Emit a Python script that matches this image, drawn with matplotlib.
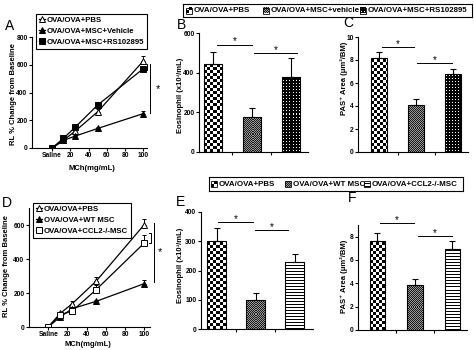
import numpy as np
import matplotlib

matplotlib.use("Agg")
import matplotlib.pyplot as plt
from matplotlib.patches import Rectangle

plt.rcParams["font.family"] = ["Liberation Sans", "DejaVu Sans"]
plt.rcParams["font.weight"] = "bold"
plt.rcParams["axes.linewidth"] = 0.8

W, H = 474, 350

# ---- data ----
doses = [0, 12.5, 25, 50, 100]
dose_ticks = [0, 20, 40, 60, 80, 100]
dose_labels = ["Saline", "20", "40", "60", "80", "100"]

a_names = ["OVA/OVA+PBS", "OVA/OVA+MSC+Vehicle", "OVA/OVA+MSC+RS102895"]
a_pbs = [0, 56, 120, 261, 628]
a_pbs_err = [0, 8, 12, 22, 35]
a_vehicle = [0, 55, 85, 141, 248]
a_vehicle_err = [0, 5, 8, 10, 18]
a_rs = [0, 70, 148, 310, 572]
a_rs_err = [0, 8, 12, 18, 18]

d_names = ["OVA/OVA+PBS", "OVA/OVA+WT MSC", "OVA/OVA+CCL2-/-MSC"]
d_pbs = [0, 80, 137, 270, 602]
d_pbs_err = [0, 10, 15, 22, 35]
d_wt = [0, 59, 108, 151, 255]
d_wt_err = [0, 5, 8, 10, 20]
d_ccl2 = [0, 72, 94, 220, 494]
d_ccl2_err = [0, 8, 10, 25, 49]

top_groups = ["OVA/OVA+PBS", "OVA/OVA+MSC+vehicle", "OVA/OVA+MSC+RS102895"]
b_eos = [446, 177, 380]
b_eos_err = [60, 45, 96]
c_pas = [8.15, 4.09, 6.75]
c_pas_err = [0.55, 0.5, 0.45]

bottom_groups = ["OVA/OVA+PBS", "OVA/OVA+WT MSC", "OVA/OVA+CCL2-/-MSC"]
e_eos = [300, 100, 229]
e_eos_err = [45, 22, 28]
f_pas = [7.64, 3.86, 6.95]
f_pas_err = [0.66, 0.52, 0.69]

top_fills = ["check", "fine", "dots"]
bottom_fills = ["check", "fine", "stripes"]


def _box(x0, y0, x1, y1):
    """Pixel box (top-left origin) -> figure fraction rect."""
    return [x0 / W, 1 - y1 / H, (x1 - x0) / W, (y1 - y0) / H]


def _pattern(kind, h, w):
    yy, xx = np.mgrid[0:h, 0:w]
    if kind == "check":
        return ((yy // 3 + xx // 3) % 2).astype(float)
    if kind == "fine":
        return np.where((yy + xx) % 2, 0.6, 0.1)
    if kind == "dots":
        return np.where((yy % 3 == 1) & (xx % 3 == 1), 1.0, 0.0)
    return np.where(yy % 3 == 0, 0.0, 1.0)


def _fill(ax, patch, kind):
    bb = patch.get_window_extent()
    w = max(int(round(bb.width)), 1)
    h = max(int(round(bb.height)), 1)
    x0, y0 = patch.get_xy()
    im = ax.imshow(
        _pattern(kind, h, w),
        extent=(x0, x0 + patch.get_width(), y0, y0 + patch.get_height()),
        origin="lower",
        cmap="gray",
        vmin=0,
        vmax=1,
        interpolation="nearest",
        aspect="auto",
        zorder=1.5,
    )
    im.set_clip_path(patch)


def _style(ax):
    for s in ("top", "right"):
        ax.spines[s].set_visible(False)
    ax.tick_params(direction="out", length=2, width=0.8, labelsize=4.8, pad=1.2)


def _line_panel(ax, series, names, markers, faces, xlim, ylim, yticks):
    for (vals, errs), name, m, fc in zip(series, names, markers, faces):
        ax.errorbar(
            doses, vals, yerr=[np.zeros(len(errs)), errs], fmt="none",
            ecolor="k", elinewidth=0.7, capsize=1.5, capthick=0.7,
        )
        ax.plot(doses, vals, color="k", lw=0.9, marker=m, mfc=fc, mec="k",
                ms=4, mew=0.7, label=name)
    ax.set_xlim(xlim)
    ax.set_ylim(ylim)
    ax.set_yticks(yticks)
    ax.set_xticks(dose_ticks, labels=dose_labels)
    _style(ax)


def _legend(ax, anchor):
    leg = ax.legend(loc="upper left", bbox_to_anchor=anchor, borderaxespad=0,
                    fontsize=5.6, handlelength=0.8, handletextpad=0.25,
                    borderpad=0.35, labelspacing=0.45, fancybox=False,
                    edgecolor="k", framealpha=1, numpoints=1)
    leg.get_frame().set_linewidth(0.8)


def _bar_panel(ax, vals, errs, kinds, width, xlim, ylim, yticks, sig):
    x = np.arange(len(vals))
    ax.set_xlim(xlim)
    ax.set_ylim(ylim)
    ax.set_autoscale_on(False)
    bars = ax.bar(x, vals, width=width, facecolor="none", edgecolor="k",
                  linewidth=0.8, zorder=3)
    for bar, kind in zip(bars, kinds):
        _fill(ax, bar, kind)
    ax.errorbar(x, vals, yerr=[np.zeros(len(errs)), errs], fmt="none",
                ecolor="k", elinewidth=0.8, capsize=2, capthick=0.8, zorder=4)
    for x0, x1, y in sig:
        ax.plot([x0, x1], [y, y], color="k", lw=0.7, clip_on=False)
        ax.text((x0 + x1) / 2, y, "*", ha="center", va="baseline",
                fontsize=7, fontweight="normal", clip_on=False)
    ax.set_yticks(yticks)
    ax.set_xticks([0.5, 1.5], labels=[])
    _style(ax)


def _bracket(ax, long_x, long_y, short_x, short_y, star_xy):
    kw = dict(color="k", lw=0.7, clip_on=False)
    ax.plot([long_x, long_x], long_y, **kw)
    ax.plot([short_x - 2, short_x, short_x, short_x - 2],
            [short_y[0], short_y[0], short_y[1], short_y[1]], **kw)
    ax.text(*star_xy, "*", ha="center", va="center", fontsize=8,
            fontweight="normal", clip_on=False)


def _swatch_legend(fig, box, names, kinds, starts):
    lax = fig.add_axes(_box(*box))
    w = box[2] - box[0]
    h = box[3] - box[1]
    lax.set_xticks([])
    lax.set_yticks([])
    for s in lax.spines.values():
        s.set_linewidth(0.8)
    size = 6
    for name, kind, sx in zip(names, kinds, starts):
        x0 = sx - box[0]
        y0 = (h - size) / 2
        lax.imshow(_pattern(kind, size, size), extent=(x0, x0 + size, y0, y0 + size),
                   cmap="gray", vmin=0, vmax=1, interpolation="nearest",
                   aspect="auto", origin="lower")
        lax.add_patch(Rectangle((x0, y0), size, size, fill=False, ec="k", lw=0.6))
        lax.text(x0 + size + 2, h / 2, name, va="center", ha="left", fontsize=5.7)
    lax.set_xlim(0, w)
    lax.set_ylim(0, h)


fig = plt.figure(figsize=(W / 100, H / 100), dpi=100)

# ---- A ----
ax_a = fig.add_axes(_box(32, 37, 147, 148))
_line_panel(
    ax_a,
    [(a_pbs, a_pbs_err), (a_vehicle, a_vehicle_err), (a_rs, a_rs_err)],
    a_names, ["^", "^", "s"], ["white", "k", "k"],
    (-22, 104), (0, 800), [0, 200, 400, 600, 800],
)
_bracket(ax_a, 107.7, [607, 254], 104.4, [607, 565], (116.5, 423))
_legend(ax_a, (4 / 115, 1 + 23 / 111))

# ---- D ----
ax_d = fig.add_axes(_box(29, 208, 150, 327))
_line_panel(
    ax_d,
    [(d_pbs, d_pbs_err), (d_wt, d_wt_err), (d_ccl2, d_ccl2_err)],
    d_names, ["^", "^", "s"], ["white", "k", "white"],
    (-20, 106), (0, 700), [0, 200, 400, 600],
)
_bracket(ax_d, 110.5, [612, 265], 107.4, [553, 494], (116, 441))
_legend(ax_d, (4 / 121, 1 + 5 / 119))

# ---- B / C ----
ax_b = fig.add_axes(_box(199, 33, 308, 152))
_bar_panel(ax_b, b_eos, b_eos_err, top_fills, 0.47, (-0.36, 2.44), (0, 600),
           [0, 200, 400, 600], [(0.1, 1.0, 542), (1.05, 2.15, 501)])
ax_c = fig.add_axes(_box(358, 37, 468, 152))
_bar_panel(ax_c, c_pas, c_pas_err, top_fills, 0.42, (-0.57, 2.4), (0, 10),
           [0, 2, 4, 6, 8, 10], [(0.08, 0.95, 9.1), (1.03, 1.97, 7.7)])

# ---- E / F ----
ax_e = fig.add_axes(_box(201, 212, 313, 329))
_bar_panel(ax_e, e_eos, e_eos_err, bottom_fills, 0.47, (-0.4, 2.47), (0, 400),
           [0, 100, 200, 300, 400], [(0.04, 0.94, 366), (0.99, 1.84, 339)])
ax_f = fig.add_axes(_box(358, 225, 467, 330))
_bar_panel(ax_f, f_pas, f_pas_err, bottom_fills, 0.42, (-0.52, 2.39), (0, 9),
           [0, 2, 4, 6, 8], [(0.07, 0.97, 9.18), (1.08, 2.0, 8.07)])

# ---- shared swatch legends ----
_swatch_legend(fig, (183, 4, 472, 17), top_groups, top_fills, [186, 263, 360])
_swatch_legend(fig, (209, 177, 463, 191), bottom_groups, bottom_fills, [211, 285, 364])

# ---- labels ----
for letter, x, y in [("A", 5, 30), ("B", 177, 29), ("C", 343, 27),
                     ("D", 2, 207), ("E", 176, 206), ("F", 348, 202)]:
    fig.text(x / W, 1 - y / H, letter, fontsize=10, fontweight="normal",
             va="baseline", ha="left")

ylabels = [
    ("RL % Change from Baseline", 14, 94),
    ("Eosinophil (x10³/mL)", 180, 95),
    ("PAS⁺ Area (μm²/BM)", 344, 78),
    ("RL % Change from Baseline", 7, 266),
    ("Eosinophil (x10³/mL)", 181, 265),
    ("PAS⁺ Area (μm²/BM)", 344, 276),
]
for text, x, y in ylabels:
    fig.text(x / W, 1 - y / H, text, rotation=90, ha="center", va="center",
             fontsize=5.5)

for x, y in [(92, 169), (88, 345)]:
    fig.text(x / W, 1 - y / H, "MCh(mg/mL)", ha="center", va="center",
             fontsize=5.5)

fig.savefig("out.png", dpi=100)
